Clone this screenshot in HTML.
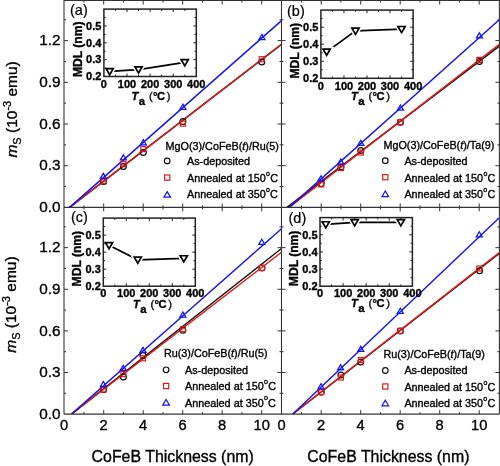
<!DOCTYPE html>
<html><head><meta charset="utf-8"><title>CoFeB thickness vs magnetic moment</title>
<style>html,body{margin:0;padding:0;background:#fff;width:500px;height:466px;overflow:hidden}svg{display:block}</style>
</head><body>
<svg width="500" height="466" viewBox="0 0 500 466" font-family="'Liberation Sans', Arial, Helvetica, sans-serif">
<style>text{fill:#000;stroke:#000;stroke-width:0.35px;paint-order:stroke}</style>
<rect width="500" height="466" fill="#fff"/>
<clipPath id="clipa"><rect x="64.0" y="0.5" width="217.5" height="206.9"/></clipPath>
<g clip-path="url(#clipa)">
<line x1="69.6" y1="207.4" x2="281.5" y2="44.4" stroke="#111" stroke-width="1.45"/>
<line x1="69.6" y1="207.4" x2="281.5" y2="44.2" stroke="#e01a1a" stroke-width="1.45"/>
<line x1="69.6" y1="207.4" x2="281.5" y2="20.6" stroke="#1414f0" stroke-width="1.45"/>
<circle cx="103.6" cy="181.4" r="2.9" fill="none" stroke="#111" stroke-width="1.25"/>
<circle cx="123.4" cy="166.5" r="2.9" fill="none" stroke="#111" stroke-width="1.25"/>
<circle cx="143.3" cy="152.5" r="2.9" fill="none" stroke="#111" stroke-width="1.25"/>
<circle cx="182.9" cy="121.4" r="2.9" fill="none" stroke="#111" stroke-width="1.25"/>
<circle cx="261.8" cy="61.9" r="2.9" fill="none" stroke="#111" stroke-width="1.25"/>
<rect x="101.10" y="178.70" width="5.0" height="5.0" fill="none" stroke="#e01a1a" stroke-width="1.2"/>
<rect x="120.90" y="161.60" width="5.0" height="5.0" fill="none" stroke="#e01a1a" stroke-width="1.2"/>
<rect x="140.80" y="146.50" width="5.0" height="5.0" fill="none" stroke="#e01a1a" stroke-width="1.2"/>
<rect x="180.40" y="121.10" width="5.0" height="5.0" fill="none" stroke="#e01a1a" stroke-width="1.2"/>
<rect x="259.20" y="56.70" width="5.0" height="5.0" fill="none" stroke="#e01a1a" stroke-width="1.2"/>
<path d="M103.40,173.31L106.45,178.49L100.35,178.49Z" fill="none" stroke="#1414f0" stroke-width="1.25" stroke-linejoin="miter"/>
<path d="M123.40,154.81L126.45,159.99L120.35,159.99Z" fill="none" stroke="#1414f0" stroke-width="1.25" stroke-linejoin="miter"/>
<path d="M143.30,139.61L146.35,144.79L140.25,144.79Z" fill="none" stroke="#1414f0" stroke-width="1.25" stroke-linejoin="miter"/>
<path d="M182.90,104.11L185.95,109.29L179.85,109.29Z" fill="none" stroke="#1414f0" stroke-width="1.25" stroke-linejoin="miter"/>
<path d="M261.90,34.41L264.95,39.59L258.85,39.59Z" fill="none" stroke="#1414f0" stroke-width="1.25" stroke-linejoin="miter"/>
</g>
<path d="M83.95,207.4v-2M83.95,0.5v2M103.70,207.4v-4M103.70,0.5v4M123.45,207.4v-2M123.45,0.5v2M143.20,207.4v-4M143.20,0.5v4M162.95,207.4v-2M162.95,0.5v2M182.70,207.4v-4M182.70,0.5v4M202.45,207.4v-2M202.45,0.5v2M222.20,207.4v-4M222.20,0.5v4M241.95,207.4v-2M241.95,0.5v2M261.70,207.4v-4M261.70,0.5v4M64.0,186.55h2M281.5,186.55h-2M64.0,165.70h4M281.5,165.70h-4M64.0,144.85h2M281.5,144.85h-2M64.0,124.00h4M281.5,124.00h-4M64.0,103.15h2M281.5,103.15h-2M64.0,82.30h4M281.5,82.30h-4M64.0,61.45h2M281.5,61.45h-2M64.0,40.60h4M281.5,40.60h-4M64.0,19.75h2M281.5,19.75h-2" stroke="#333" stroke-width="1" fill="none"/>
<clipPath id="clipb"><rect x="281.5" y="0.5" width="217.89999999999998" height="206.9"/></clipPath>
<g clip-path="url(#clipb)">
<line x1="287.0" y1="207.4" x2="499" y2="46.3" stroke="#111" stroke-width="1.45"/>
<line x1="289.2" y1="207.4" x2="499" y2="44.6" stroke="#e01a1a" stroke-width="1.45"/>
<line x1="289.2" y1="207.4" x2="499" y2="20.0" stroke="#1414f0" stroke-width="1.45"/>
<circle cx="321.2" cy="183.6" r="2.9" fill="none" stroke="#111" stroke-width="1.25"/>
<circle cx="341.0" cy="167.0" r="2.9" fill="none" stroke="#111" stroke-width="1.25"/>
<circle cx="360.8" cy="150.5" r="2.9" fill="none" stroke="#111" stroke-width="1.25"/>
<circle cx="400.4" cy="122.2" r="2.9" fill="none" stroke="#111" stroke-width="1.25"/>
<circle cx="479.4" cy="61.4" r="2.9" fill="none" stroke="#111" stroke-width="1.25"/>
<rect x="318.70" y="181.90" width="5.0" height="5.0" fill="none" stroke="#e01a1a" stroke-width="1.2"/>
<rect x="338.50" y="165.50" width="5.0" height="5.0" fill="none" stroke="#e01a1a" stroke-width="1.2"/>
<rect x="358.30" y="150.00" width="5.0" height="5.0" fill="none" stroke="#e01a1a" stroke-width="1.2"/>
<rect x="397.90" y="119.70" width="5.0" height="5.0" fill="none" stroke="#e01a1a" stroke-width="1.2"/>
<rect x="476.90" y="57.40" width="5.0" height="5.0" fill="none" stroke="#e01a1a" stroke-width="1.2"/>
<path d="M321.00,175.71L324.05,180.89L317.95,180.89Z" fill="none" stroke="#1414f0" stroke-width="1.25" stroke-linejoin="miter"/>
<path d="M340.80,158.91L343.85,164.09L337.75,164.09Z" fill="none" stroke="#1414f0" stroke-width="1.25" stroke-linejoin="miter"/>
<path d="M360.80,140.21L363.85,145.39L357.75,145.39Z" fill="none" stroke="#1414f0" stroke-width="1.25" stroke-linejoin="miter"/>
<path d="M400.40,105.01L403.45,110.19L397.35,110.19Z" fill="none" stroke="#1414f0" stroke-width="1.25" stroke-linejoin="miter"/>
<path d="M479.40,32.81L482.45,37.99L476.35,37.99Z" fill="none" stroke="#1414f0" stroke-width="1.25" stroke-linejoin="miter"/>
</g>
<path d="M301.45,207.4v-2M301.45,0.5v2M321.20,207.4v-4M321.20,0.5v4M340.95,207.4v-2M340.95,0.5v2M360.70,207.4v-4M360.70,0.5v4M380.45,207.4v-2M380.45,0.5v2M400.20,207.4v-4M400.20,0.5v4M419.95,207.4v-2M419.95,0.5v2M439.70,207.4v-4M439.70,0.5v4M459.45,207.4v-2M459.45,0.5v2M479.20,207.4v-4M479.20,0.5v4M281.5,186.55h2M499.4,186.55h-2M281.5,165.70h4M499.4,165.70h-4M281.5,144.85h2M499.4,144.85h-2M281.5,124.00h4M499.4,124.00h-4M281.5,103.15h2M499.4,103.15h-2M281.5,82.30h4M499.4,82.30h-4M281.5,61.45h2M499.4,61.45h-2M281.5,40.60h4M499.4,40.60h-4M281.5,19.75h2M499.4,19.75h-2" stroke="#333" stroke-width="1" fill="none"/>
<clipPath id="clipc"><rect x="64.0" y="207.4" width="217.5" height="206.70000000000002"/></clipPath>
<g clip-path="url(#clipc)">
<line x1="71.5" y1="414.1" x2="281.5" y2="248.5" stroke="#111" stroke-width="1.45"/>
<line x1="71.5" y1="414.1" x2="281.5" y2="252.3" stroke="#e01a1a" stroke-width="1.45"/>
<line x1="71.5" y1="414.1" x2="281.5" y2="228.7" stroke="#1414f0" stroke-width="1.45"/>
<circle cx="103.6" cy="389.6" r="2.9" fill="none" stroke="#111" stroke-width="1.25"/>
<circle cx="123.4" cy="377.0" r="2.9" fill="none" stroke="#111" stroke-width="1.25"/>
<circle cx="143.0" cy="355.5" r="2.9" fill="none" stroke="#111" stroke-width="1.25"/>
<circle cx="182.9" cy="330.3" r="2.9" fill="none" stroke="#111" stroke-width="1.25"/>
<circle cx="262.0" cy="267.9" r="2.9" fill="none" stroke="#111" stroke-width="1.25"/>
<rect x="101.10" y="387.10" width="5.0" height="5.0" fill="none" stroke="#e01a1a" stroke-width="1.2"/>
<rect x="120.90" y="371.50" width="5.0" height="5.0" fill="none" stroke="#e01a1a" stroke-width="1.2"/>
<rect x="140.50" y="355.80" width="5.0" height="5.0" fill="none" stroke="#e01a1a" stroke-width="1.2"/>
<rect x="180.40" y="326.70" width="5.0" height="5.0" fill="none" stroke="#e01a1a" stroke-width="1.2"/>
<rect x="259.50" y="265.40" width="5.0" height="5.0" fill="none" stroke="#e01a1a" stroke-width="1.2"/>
<path d="M103.40,381.51L106.45,386.69L100.35,386.69Z" fill="none" stroke="#1414f0" stroke-width="1.25" stroke-linejoin="miter"/>
<path d="M123.20,365.31L126.25,370.49L120.15,370.49Z" fill="none" stroke="#1414f0" stroke-width="1.25" stroke-linejoin="miter"/>
<path d="M143.00,347.31L146.05,352.49L139.95,352.49Z" fill="none" stroke="#1414f0" stroke-width="1.25" stroke-linejoin="miter"/>
<path d="M182.90,312.01L185.95,317.19L179.85,317.19Z" fill="none" stroke="#1414f0" stroke-width="1.25" stroke-linejoin="miter"/>
<path d="M261.80,239.21L264.85,244.39L258.75,244.39Z" fill="none" stroke="#1414f0" stroke-width="1.25" stroke-linejoin="miter"/>
</g>
<path d="M83.95,414.1v-2M83.95,207.4v2M103.70,414.1v-4M103.70,207.4v4M123.45,414.1v-2M123.45,207.4v2M143.20,414.1v-4M143.20,207.4v4M162.95,414.1v-2M162.95,207.4v2M182.70,414.1v-4M182.70,207.4v4M202.45,414.1v-2M202.45,207.4v2M222.20,414.1v-4M222.20,207.4v4M241.95,414.1v-2M241.95,207.4v2M261.70,414.1v-4M261.70,207.4v4M64.0,393.30h2M281.5,393.30h-2M64.0,372.49h4M281.5,372.49h-4M64.0,351.69h2M281.5,351.69h-2M64.0,330.88h4M281.5,330.88h-4M64.0,310.08h2M281.5,310.08h-2M64.0,289.27h4M281.5,289.27h-4M64.0,268.47h2M281.5,268.47h-2M64.0,247.66h4M281.5,247.66h-4M64.0,226.86h2M281.5,226.86h-2" stroke="#333" stroke-width="1" fill="none"/>
<clipPath id="clipd"><rect x="281.5" y="207.4" width="217.89999999999998" height="206.70000000000002"/></clipPath>
<g clip-path="url(#clipd)">
<line x1="292.8" y1="414.0" x2="499" y2="253.6" stroke="#111" stroke-width="1.45"/>
<line x1="292.8" y1="414.0" x2="499" y2="252.9" stroke="#e01a1a" stroke-width="1.45"/>
<line x1="292.8" y1="414.0" x2="499" y2="218.0" stroke="#1414f0" stroke-width="1.45"/>
<circle cx="321.2" cy="392.1" r="2.9" fill="none" stroke="#111" stroke-width="1.25"/>
<circle cx="340.9" cy="374.9" r="2.9" fill="none" stroke="#111" stroke-width="1.25"/>
<circle cx="360.8" cy="361.9" r="2.9" fill="none" stroke="#111" stroke-width="1.25"/>
<circle cx="400.3" cy="330.9" r="2.9" fill="none" stroke="#111" stroke-width="1.25"/>
<circle cx="479.6" cy="270.8" r="2.9" fill="none" stroke="#111" stroke-width="1.25"/>
<rect x="318.70" y="389.60" width="5.0" height="5.0" fill="none" stroke="#e01a1a" stroke-width="1.2"/>
<rect x="338.40" y="375.00" width="5.0" height="5.0" fill="none" stroke="#e01a1a" stroke-width="1.2"/>
<rect x="358.30" y="357.50" width="5.0" height="5.0" fill="none" stroke="#e01a1a" stroke-width="1.2"/>
<rect x="397.80" y="328.40" width="5.0" height="5.0" fill="none" stroke="#e01a1a" stroke-width="1.2"/>
<rect x="476.80" y="266.00" width="5.0" height="5.0" fill="none" stroke="#e01a1a" stroke-width="1.2"/>
<path d="M321.00,383.61L324.05,388.79L317.95,388.79Z" fill="none" stroke="#1414f0" stroke-width="1.25" stroke-linejoin="miter"/>
<path d="M340.60,364.81L343.65,369.99L337.55,369.99Z" fill="none" stroke="#1414f0" stroke-width="1.25" stroke-linejoin="miter"/>
<path d="M360.80,346.31L363.85,351.49L357.75,351.49Z" fill="none" stroke="#1414f0" stroke-width="1.25" stroke-linejoin="miter"/>
<path d="M400.30,308.11L403.35,313.29L397.25,313.29Z" fill="none" stroke="#1414f0" stroke-width="1.25" stroke-linejoin="miter"/>
<path d="M479.30,231.71L482.35,236.89L476.25,236.89Z" fill="none" stroke="#1414f0" stroke-width="1.25" stroke-linejoin="miter"/>
</g>
<path d="M301.45,414.1v-2M301.45,207.4v2M321.20,414.1v-4M321.20,207.4v4M340.95,414.1v-2M340.95,207.4v2M360.70,414.1v-4M360.70,207.4v4M380.45,414.1v-2M380.45,207.4v2M400.20,414.1v-4M400.20,207.4v4M419.95,414.1v-2M419.95,207.4v2M439.70,414.1v-4M439.70,207.4v4M459.45,414.1v-2M459.45,207.4v2M479.20,414.1v-4M479.20,207.4v4M281.5,393.30h2M499.4,393.30h-2M281.5,372.49h4M499.4,372.49h-4M281.5,351.69h2M499.4,351.69h-2M281.5,330.88h4M499.4,330.88h-4M281.5,310.08h2M499.4,310.08h-2M281.5,289.27h4M499.4,289.27h-4M281.5,268.47h2M499.4,268.47h-2M281.5,247.66h4M499.4,247.66h-4M281.5,226.86h2M499.4,226.86h-2" stroke="#333" stroke-width="1" fill="none"/>
<path d="M64.0,0V414.1M281.5,0V414.1M499.4,0V414.1M64.0,0.5H499.4M64.0,207.4H499.4M64.0,414.1H499.4" stroke="#333" stroke-width="1.1" fill="none"/>
<rect x="103.9" y="9.1" width="92.40" height="67.40" fill="#fff" stroke="none"/>
<polyline points="109.68,71.28 138.55,69.59 184.75,62.35" fill="none" stroke="#000" stroke-width="1.7"/>
<path d="M106.08,68.58L113.28,68.58L109.68,74.70Z" fill="#fff" stroke="#fff" stroke-width="4.6"/><path d="M106.08,68.58L113.28,68.58L109.68,74.70Z" fill="#fff" stroke="#000" stroke-width="1.7"/>
<path d="M134.95,66.89L142.15,66.89L138.55,73.01Z" fill="#fff" stroke="#fff" stroke-width="4.6"/><path d="M134.95,66.89L142.15,66.89L138.55,73.01Z" fill="#fff" stroke="#000" stroke-width="1.7"/>
<path d="M181.15,59.65L188.35,59.65L184.75,65.77Z" fill="#fff" stroke="#fff" stroke-width="4.6"/><path d="M181.15,59.65L188.35,59.65L184.75,65.77Z" fill="#fff" stroke="#000" stroke-width="1.7"/>
<rect x="103.9" y="9.1" width="92.40" height="67.40" fill="none" stroke="#222" stroke-width="1.5"/>
<path d="M115.45,76.5v-1.8M115.45,9.1v1.8M127.00,76.5v-3M127.00,9.1v3M138.55,76.5v-1.8M138.55,9.1v1.8M150.10,76.5v-3M150.10,9.1v3M161.65,76.5v-1.8M161.65,9.1v1.8M173.20,76.5v-3M173.20,9.1v3M184.75,76.5v-1.8M184.75,9.1v1.8M103.9,68.08h1.8M196.3,68.08h-1.8M103.9,59.65h3M196.3,59.65h-3M103.9,51.22h1.8M196.3,51.22h-1.8M103.9,42.80h3M196.3,42.80h-3M103.9,34.38h1.8M196.3,34.38h-1.8M103.9,25.95h3M196.3,25.95h-3M103.9,17.52h1.8M196.3,17.52h-1.8" stroke="#222" stroke-width="1" fill="none"/>
<text x="101.40" y="80.30" font-size="11" font-weight="bold" text-anchor="end">0.2</text>
<text x="101.40" y="63.45" font-size="11" font-weight="bold" text-anchor="end">0.3</text>
<text x="101.40" y="46.60" font-size="11" font-weight="bold" text-anchor="end">0.4</text>
<text x="101.40" y="29.75" font-size="11" font-weight="bold" text-anchor="end">0.5</text>
<text x="103.90" y="87.70" font-size="11" font-weight="bold" text-anchor="middle">0</text>
<text x="127.00" y="87.70" font-size="11" font-weight="bold" text-anchor="middle">100</text>
<text x="150.10" y="87.70" font-size="11" font-weight="bold" text-anchor="middle">200</text>
<text x="173.20" y="87.70" font-size="11" font-weight="bold" text-anchor="middle">300</text>
<text x="196.30" y="87.70" font-size="11" font-weight="bold" text-anchor="middle">400</text>
<text x="131.40" y="99.90" font-size="11.2" font-weight="bold"><tspan font-style="italic">T</tspan><tspan font-size="11.3" dx="0.6" dy="4.7">a</tspan><tspan dy="-4.7" dx="3.9" font-weight="normal">(</tspan><tspan dx="0.3">°</tspan><tspan dx="-0.5">C</tspan><tspan dx="1.6" font-weight="normal">)</tspan></text>
<text transform="translate(81.60,49.30) rotate(-90)" font-size="12.1" font-weight="bold" text-anchor="middle">MDL (nm)</text>
<rect x="320.9" y="10.1" width="92.20" height="68.20" fill="#fff" stroke="none"/>
<polyline points="326.66,51.87 355.48,30.90 401.58,29.20" fill="none" stroke="#000" stroke-width="1.7"/>
<path d="M323.06,49.17L330.26,49.17L326.66,55.29Z" fill="#fff" stroke="#fff" stroke-width="4.6"/><path d="M323.06,49.17L330.26,49.17L326.66,55.29Z" fill="#fff" stroke="#000" stroke-width="1.7"/>
<path d="M351.88,28.20L359.08,28.20L355.48,34.32Z" fill="#fff" stroke="#fff" stroke-width="4.6"/><path d="M351.88,28.20L359.08,28.20L355.48,34.32Z" fill="#fff" stroke="#000" stroke-width="1.7"/>
<path d="M397.98,26.50L405.18,26.50L401.58,32.62Z" fill="#fff" stroke="#fff" stroke-width="4.6"/><path d="M397.98,26.50L405.18,26.50L401.58,32.62Z" fill="#fff" stroke="#000" stroke-width="1.7"/>
<rect x="320.9" y="10.1" width="92.20" height="68.20" fill="none" stroke="#222" stroke-width="1.5"/>
<path d="M332.42,78.3v-1.8M332.42,10.1v1.8M343.95,78.3v-3M343.95,10.1v3M355.48,78.3v-1.8M355.48,10.1v1.8M367.00,78.3v-3M367.00,10.1v3M378.52,78.3v-1.8M378.52,10.1v1.8M390.05,78.3v-3M390.05,10.1v3M401.58,78.3v-1.8M401.58,10.1v1.8M320.9,69.78h1.8M413.1,69.78h-1.8M320.9,61.25h3M413.1,61.25h-3M320.9,52.72h1.8M413.1,52.72h-1.8M320.9,44.20h3M413.1,44.20h-3M320.9,35.67h1.8M413.1,35.67h-1.8M320.9,27.15h3M413.1,27.15h-3M320.9,18.62h1.8M413.1,18.62h-1.8" stroke="#222" stroke-width="1" fill="none"/>
<text x="318.40" y="82.10" font-size="11" font-weight="bold" text-anchor="end">0.2</text>
<text x="318.40" y="65.05" font-size="11" font-weight="bold" text-anchor="end">0.3</text>
<text x="318.40" y="48.00" font-size="11" font-weight="bold" text-anchor="end">0.4</text>
<text x="318.40" y="30.95" font-size="11" font-weight="bold" text-anchor="end">0.5</text>
<text x="320.90" y="89.50" font-size="11" font-weight="bold" text-anchor="middle">0</text>
<text x="343.95" y="89.50" font-size="11" font-weight="bold" text-anchor="middle">100</text>
<text x="367.00" y="89.50" font-size="11" font-weight="bold" text-anchor="middle">200</text>
<text x="390.05" y="89.50" font-size="11" font-weight="bold" text-anchor="middle">300</text>
<text x="413.10" y="89.50" font-size="11" font-weight="bold" text-anchor="middle">400</text>
<text x="350.90" y="100.40" font-size="11.2" font-weight="bold"><tspan font-style="italic">T</tspan><tspan font-size="11.3" dx="0.6" dy="4.7">a</tspan><tspan dy="-4.7" dx="3.9" font-weight="normal">(</tspan><tspan dx="0.3">°</tspan><tspan dx="-0.5">C</tspan><tspan dx="1.6" font-weight="normal">)</tspan></text>
<text transform="translate(298.60,50.70) rotate(-90)" font-size="12.1" font-weight="bold" text-anchor="middle">MDL (nm)</text>
<rect x="103.3" y="218.1" width="92.00" height="68.10" fill="#fff" stroke="none"/>
<polyline points="109.05,245.34 137.80,259.81 183.80,258.45" fill="none" stroke="#000" stroke-width="1.7"/>
<path d="M105.45,242.64L112.65,242.64L109.05,248.76Z" fill="#fff" stroke="#fff" stroke-width="4.6"/><path d="M105.45,242.64L112.65,242.64L109.05,248.76Z" fill="#fff" stroke="#000" stroke-width="1.7"/>
<path d="M134.20,257.11L141.40,257.11L137.80,263.23Z" fill="#fff" stroke="#fff" stroke-width="4.6"/><path d="M134.20,257.11L141.40,257.11L137.80,263.23Z" fill="#fff" stroke="#000" stroke-width="1.7"/>
<path d="M180.20,255.75L187.40,255.75L183.80,261.87Z" fill="#fff" stroke="#fff" stroke-width="4.6"/><path d="M180.20,255.75L187.40,255.75L183.80,261.87Z" fill="#fff" stroke="#000" stroke-width="1.7"/>
<rect x="103.3" y="218.1" width="92.00" height="68.10" fill="none" stroke="#222" stroke-width="1.5"/>
<path d="M114.80,286.2v-1.8M114.80,218.1v1.8M126.30,286.2v-3M126.30,218.1v3M137.80,286.2v-1.8M137.80,218.1v1.8M149.30,286.2v-3M149.30,218.1v3M160.80,286.2v-1.8M160.80,218.1v1.8M172.30,286.2v-3M172.30,218.1v3M183.80,286.2v-1.8M183.80,218.1v1.8M103.3,277.69h1.8M195.3,277.69h-1.8M103.3,269.18h3M195.3,269.18h-3M103.3,260.66h1.8M195.3,260.66h-1.8M103.3,252.15h3M195.3,252.15h-3M103.3,243.64h1.8M195.3,243.64h-1.8M103.3,235.12h3M195.3,235.12h-3M103.3,226.61h1.8M195.3,226.61h-1.8" stroke="#222" stroke-width="1" fill="none"/>
<text x="100.80" y="290.00" font-size="11" font-weight="bold" text-anchor="end">0.2</text>
<text x="100.80" y="272.98" font-size="11" font-weight="bold" text-anchor="end">0.3</text>
<text x="100.80" y="255.95" font-size="11" font-weight="bold" text-anchor="end">0.4</text>
<text x="100.80" y="238.93" font-size="11" font-weight="bold" text-anchor="end">0.5</text>
<text x="103.30" y="297.40" font-size="11" font-weight="bold" text-anchor="middle">0</text>
<text x="126.30" y="297.40" font-size="11" font-weight="bold" text-anchor="middle">100</text>
<text x="149.30" y="297.40" font-size="11" font-weight="bold" text-anchor="middle">200</text>
<text x="172.30" y="297.40" font-size="11" font-weight="bold" text-anchor="middle">300</text>
<text x="195.30" y="297.40" font-size="11" font-weight="bold" text-anchor="middle">400</text>
<text x="132.90" y="308.40" font-size="11.2" font-weight="bold"><tspan font-style="italic">T</tspan><tspan font-size="11.3" dx="0.6" dy="4.7">a</tspan><tspan dy="-4.7" dx="3.9" font-weight="normal">(</tspan><tspan dx="0.3">°</tspan><tspan dx="-0.5">C</tspan><tspan dx="1.6" font-weight="normal">)</tspan></text>
<text transform="translate(81.00,258.65) rotate(-90)" font-size="12.1" font-weight="bold" text-anchor="middle">MDL (nm)</text>
<rect x="320.0" y="217.6" width="92.40" height="68.60" fill="#fff" stroke="none"/>
<polyline points="325.77,224.46 354.65,222.40 400.85,222.40" fill="none" stroke="#000" stroke-width="1.7"/>
<path d="M322.17,221.76L329.38,221.76L325.77,227.88Z" fill="#fff" stroke="#fff" stroke-width="4.6"/><path d="M322.17,221.76L329.38,221.76L325.77,227.88Z" fill="#fff" stroke="#000" stroke-width="1.7"/>
<path d="M351.05,219.70L358.25,219.70L354.65,225.82Z" fill="#fff" stroke="#fff" stroke-width="4.6"/><path d="M351.05,219.70L358.25,219.70L354.65,225.82Z" fill="#fff" stroke="#000" stroke-width="1.7"/>
<path d="M397.25,219.70L404.45,219.70L400.85,225.82Z" fill="#fff" stroke="#fff" stroke-width="4.6"/><path d="M397.25,219.70L404.45,219.70L400.85,225.82Z" fill="#fff" stroke="#000" stroke-width="1.7"/>
<rect x="320.0" y="217.6" width="92.40" height="68.60" fill="none" stroke="#222" stroke-width="1.5"/>
<path d="M331.55,286.2v-1.8M331.55,217.6v1.8M343.10,286.2v-3M343.10,217.6v3M354.65,286.2v-1.8M354.65,217.6v1.8M366.20,286.2v-3M366.20,217.6v3M377.75,286.2v-1.8M377.75,217.6v1.8M389.30,286.2v-3M389.30,217.6v3M400.85,286.2v-1.8M400.85,217.6v1.8M320.0,277.62h1.8M412.4,277.62h-1.8M320.0,269.05h3M412.4,269.05h-3M320.0,260.47h1.8M412.4,260.47h-1.8M320.0,251.90h3M412.4,251.90h-3M320.0,243.32h1.8M412.4,243.32h-1.8M320.0,234.75h3M412.4,234.75h-3M320.0,226.17h1.8M412.4,226.17h-1.8" stroke="#222" stroke-width="1" fill="none"/>
<text x="317.50" y="290.00" font-size="11" font-weight="bold" text-anchor="end">0.2</text>
<text x="317.50" y="272.85" font-size="11" font-weight="bold" text-anchor="end">0.3</text>
<text x="317.50" y="255.70" font-size="11" font-weight="bold" text-anchor="end">0.4</text>
<text x="317.50" y="238.55" font-size="11" font-weight="bold" text-anchor="end">0.5</text>
<text x="320.00" y="297.40" font-size="11" font-weight="bold" text-anchor="middle">0</text>
<text x="343.10" y="297.40" font-size="11" font-weight="bold" text-anchor="middle">100</text>
<text x="366.20" y="297.40" font-size="11" font-weight="bold" text-anchor="middle">200</text>
<text x="389.30" y="297.40" font-size="11" font-weight="bold" text-anchor="middle">300</text>
<text x="412.40" y="297.40" font-size="11" font-weight="bold" text-anchor="middle">400</text>
<text x="350.90" y="307.40" font-size="11.2" font-weight="bold"><tspan font-style="italic">T</tspan><tspan font-size="11.3" dx="0.6" dy="4.7">a</tspan><tspan dy="-4.7" dx="3.9" font-weight="normal">(</tspan><tspan dx="0.3">°</tspan><tspan dx="-0.5">C</tspan><tspan dx="1.6" font-weight="normal">)</tspan></text>
<text transform="translate(297.70,258.40) rotate(-90)" font-size="12.1" font-weight="bold" text-anchor="middle">MDL (nm)</text>
<text x="165.5" y="149.7" font-size="10.8">MgO(3)/CoFeB(<tspan font-style="italic">t</tspan>)/Ru(5)</text>
<circle cx="167.2" cy="160.9" r="2.8" fill="none" stroke="#111" stroke-width="1.2"/>
<rect x="164.60" y="175.00" width="5.2" height="5.2" fill="none" stroke="#e01a1a" stroke-width="1.2"/>
<path d="M167.20,191.59L170.50,197.21L163.90,197.21Z" fill="none" stroke="#1414f0" stroke-width="1.2" stroke-linejoin="miter"/>
<text x="187.0" y="165.2" font-size="10.8">As-deposited</text>
<text x="187.0" y="182.0" font-size="10.8">Annealed at 150<tspan font-size="7" dx="0.4" dy="-5.9">o</tspan><tspan dx="0.2" dy="5.9">C</tspan></text>
<text x="187.0" y="198.4" font-size="10.8">Annealed at 350<tspan font-size="7" dx="0.3" dy="-6.6">o</tspan><tspan dx="0.2" dy="6.6">C</tspan></text>
<text x="383.4" y="149.4" font-size="10.8">MgO(3)/CoFeB(<tspan font-style="italic">t</tspan>)/Ta(9)</text>
<circle cx="385.3" cy="160.7" r="2.8" fill="none" stroke="#111" stroke-width="1.2"/>
<rect x="382.70" y="174.60" width="5.2" height="5.2" fill="none" stroke="#e01a1a" stroke-width="1.2"/>
<path d="M385.30,191.00L388.60,196.61L382.00,196.61Z" fill="none" stroke="#1414f0" stroke-width="1.2" stroke-linejoin="miter"/>
<text x="404.4" y="165.0" font-size="10.8">As-deposited</text>
<text x="404.4" y="181.8" font-size="10.8">Annealed at 150<tspan font-size="7" dx="0.4" dy="-5.9">o</tspan><tspan dx="0.2" dy="5.9">C</tspan></text>
<text x="404.4" y="198.2" font-size="10.8">Annealed at 350<tspan font-size="7" dx="0.3" dy="-6.6">o</tspan><tspan dx="0.2" dy="6.6">C</tspan></text>
<text x="163.9" y="357.2" font-size="10.8">Ru(3)/CoFeB(<tspan font-style="italic">t</tspan>)/Ru(5)</text>
<circle cx="166.1" cy="369.8" r="2.8" fill="none" stroke="#111" stroke-width="1.2"/>
<rect x="163.50" y="383.40" width="5.2" height="5.2" fill="none" stroke="#e01a1a" stroke-width="1.2"/>
<path d="M166.10,399.50L169.40,405.11L162.80,405.11Z" fill="none" stroke="#1414f0" stroke-width="1.2" stroke-linejoin="miter"/>
<text x="185.0" y="373.6" font-size="10.8">As-deposited</text>
<text x="185.0" y="390.2" font-size="10.8">Annealed at 150<tspan font-size="7" dx="0.4" dy="-5.9">o</tspan><tspan dx="0.2" dy="5.9">C</tspan></text>
<text x="185.0" y="406.6" font-size="10.8">Annealed at 350<tspan font-size="7" dx="0.3" dy="-6.6">o</tspan><tspan dx="0.2" dy="6.6">C</tspan></text>
<text x="383.4" y="357.6" font-size="10.8">Ru(3)/CoFeB(<tspan font-style="italic">t</tspan>)/Ta(9)</text>
<circle cx="385.3" cy="370.5" r="2.8" fill="none" stroke="#111" stroke-width="1.2"/>
<rect x="382.70" y="383.90" width="5.2" height="5.2" fill="none" stroke="#e01a1a" stroke-width="1.2"/>
<path d="M385.30,400.19L388.60,405.81L382.00,405.81Z" fill="none" stroke="#1414f0" stroke-width="1.2" stroke-linejoin="miter"/>
<text x="404.4" y="374.2" font-size="10.8">As-deposited</text>
<text x="404.4" y="390.8" font-size="10.8">Annealed at 150<tspan font-size="7" dx="0.4" dy="-5.9">o</tspan><tspan dx="0.2" dy="5.9">C</tspan></text>
<text x="404.4" y="407.2" font-size="10.8">Annealed at 350<tspan font-size="7" dx="0.3" dy="-6.6">o</tspan><tspan dx="0.2" dy="6.6">C</tspan></text>
<text x="70.0" y="15.2" font-size="14.5" style="stroke-width:0.2px">(a)</text>
<text x="287.0" y="15.7" font-size="14.5" style="stroke-width:0.2px">(b)</text>
<text x="71.0" y="222.3" font-size="14.5" style="stroke-width:0.2px">(c)</text>
<text x="288.5" y="222.6" font-size="14.5" style="stroke-width:0.2px">(d)</text>
<text x="60.4" y="212.10" font-size="15.3" text-anchor="end">0.0</text>
<text x="60.4" y="170.40" font-size="15.3" text-anchor="end">0.3</text>
<text x="60.4" y="128.70" font-size="15.3" text-anchor="end">0.6</text>
<text x="60.4" y="87.00" font-size="15.3" text-anchor="end">0.9</text>
<text x="60.4" y="45.30" font-size="15.3" text-anchor="end">1.2</text>
<text x="60.4" y="418.80" font-size="15.3" text-anchor="end">0.0</text>
<text x="60.4" y="377.19" font-size="15.3" text-anchor="end">0.3</text>
<text x="60.4" y="335.58" font-size="15.3" text-anchor="end">0.6</text>
<text x="60.4" y="293.97" font-size="15.3" text-anchor="end">0.9</text>
<text x="60.4" y="252.36" font-size="15.3" text-anchor="end">1.2</text>
<text x="64.20" y="429.8" font-size="14.7" text-anchor="middle">0</text>
<text x="103.70" y="429.8" font-size="14.7" text-anchor="middle">2</text>
<text x="143.20" y="429.8" font-size="14.7" text-anchor="middle">4</text>
<text x="182.70" y="429.8" font-size="14.7" text-anchor="middle">6</text>
<text x="222.20" y="429.8" font-size="14.7" text-anchor="middle">8</text>
<text x="261.70" y="429.8" font-size="14.7" text-anchor="middle">10</text>
<text x="281.70" y="429.8" font-size="14.7" text-anchor="middle">0</text>
<text x="321.20" y="429.8" font-size="14.7" text-anchor="middle">2</text>
<text x="360.70" y="429.8" font-size="14.7" text-anchor="middle">4</text>
<text x="400.20" y="429.8" font-size="14.7" text-anchor="middle">6</text>
<text x="439.70" y="429.8" font-size="14.7" text-anchor="middle">8</text>
<text x="479.20" y="429.8" font-size="14.7" text-anchor="middle">10</text>
<text x="172.7" y="462.3" font-size="15.9" text-anchor="middle">CoFeB Thickness (nm)</text>
<text x="388.4" y="462.3" font-size="15.9" text-anchor="middle">CoFeB Thickness (nm)</text>
<text transform="translate(17.0,109.4) rotate(-90)" font-size="15.5" text-anchor="middle"><tspan font-style="italic">m</tspan><tspan font-size="11" dy="3.5">S</tspan><tspan dy="-3.5"> (10</tspan><tspan font-size="11" dy="-6">-3</tspan><tspan dy="6"> emu)</tspan></text>
<text transform="translate(16.0,304.6) rotate(-90)" font-size="15.5" text-anchor="middle"><tspan font-style="italic">m</tspan><tspan font-size="11" dy="3.5">S</tspan><tspan dy="-3.5"> (10</tspan><tspan font-size="11" dy="-6">-3</tspan><tspan dy="6"> emu)</tspan></text>
</svg>
</body></html>
